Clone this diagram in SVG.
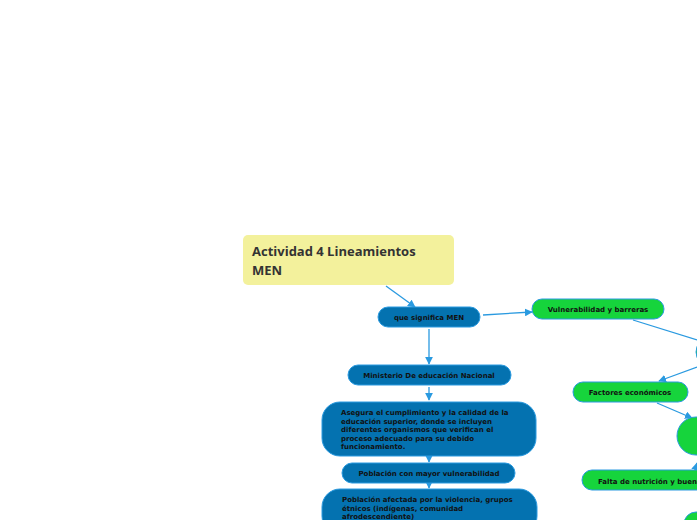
<svg xmlns="http://www.w3.org/2000/svg" width="697" height="520" viewBox="0 0 697 520">
<defs><marker id="a" viewBox="0 0 10 10" refX="9" refY="5" markerWidth="6" markerHeight="6" orient="auto"><path d="M0,0L10,5L0,10z" fill="#2a9ae0"/></marker>
<style>.b{fill:#0472b0;stroke:#2a9ae0;stroke-width:1}.g{fill:#16d43c;stroke:#2a9ae0;stroke-width:1}.t{font-family:"DejaVu Sans",sans-serif;font-size:7px;font-weight:bold;fill:#111}.c{text-anchor:middle}line,path.l{stroke:#2a9ae0;stroke-width:1.3;fill:none}</style></defs>
<rect width="697" height="520" fill="#fff"/>
<g id="connectors">
<line x1="386" y1="286" x2="415" y2="307" marker-end="url(#a)"/>
<line x1="483" y1="315" x2="532" y2="312" marker-end="url(#a)"/>
<line x1="429" y1="329" x2="429" y2="364" marker-end="url(#a)"/>
<line x1="429" y1="387" x2="429" y2="400" marker-end="url(#a)"/>
<line x1="429" y1="456" x2="429" y2="462" marker-end="url(#a)"/>
<line x1="429" y1="483" x2="429" y2="488" marker-end="url(#a)"/>
<line x1="633" y1="320" x2="697" y2="340"/>
<line x1="697" y1="367" x2="659" y2="381" marker-end="url(#a)"/>
<line x1="657" y1="403" x2="692" y2="418" marker-end="url(#a)"/>
<line x1="695" y1="470" x2="697" y2="463" marker-end="url(#a)"/>
</g>
<g id="title"><rect x="243" y="235" width="211" height="50" rx="5" fill="#f3f19c"/><text x="252" y="256" font-family="'Open Sans',sans-serif" font-size="13" font-weight="bold" fill="#333">Actividad 4 Lineamientos</text><text x="252" y="275" font-family="'Open Sans',sans-serif" font-size="13" font-weight="bold" fill="#333">MEN</text></g>
<g id="n1"><rect class="b" x="378" y="307" width="102" height="20" rx="10"/><text class="t c" x="429" y="320">que significa MEN</text></g>
<g id="n2"><rect class="g" x="532" y="299" width="132" height="20" rx="10"/><text class="t c" x="598" y="312">Vulnerabilidad y barreras</text></g>
<g id="n3"><rect class="b" x="348" y="365" width="163" height="20" rx="10"/><text class="t c" x="429" y="378">Ministerio De educación Nacional</text></g>
<g id="n4"><rect class="b" x="322" y="402" width="214" height="54" rx="18"/><text class="t" x="341" y="415">Asegura el cumplimiento y la calidad de la</text><text class="t" x="341" y="423.5">educación superior, donde se incluyen</text><text class="t" x="341" y="432">diferentes organismos que verifican el</text><text class="t" x="341" y="440.5">proceso adecuado para su debido</text><text class="t" x="341" y="449">funcionamiento.</text></g>
<g id="n5"><rect class="b" x="342" y="463" width="173" height="20" rx="10"/><text class="t c" x="429" y="476">Población con mayor vulnerabilidad</text></g>
<g id="n6"><rect class="b" x="322" y="489" width="215" height="45" rx="18"/><text class="t" x="342" y="502">Población afectada por la violencia, grupos</text><text class="t" x="342" y="510.5">étnicos (indígenas, comunidad</text><text class="t" x="342" y="519">afrodescendiente)</text></g>
<g id="n7"><circle class="g" cx="710" cy="352" r="14"/></g>
<g id="n8"><rect class="g" x="573" y="382" width="115" height="20" rx="10"/><text class="t c" x="630" y="395">Factores económicos</text></g>
<g id="n9"><rect class="g" x="677" y="417" width="60" height="38" rx="19"/></g>
<g id="n10"><rect class="g" x="582" y="470" width="150" height="20" rx="10"/><text class="t" x="598" y="484">Falta de nutrición y buena</text></g>
<g id="n11"><rect class="g" x="684" y="512" width="60" height="30" rx="12"/></g>
</svg>
